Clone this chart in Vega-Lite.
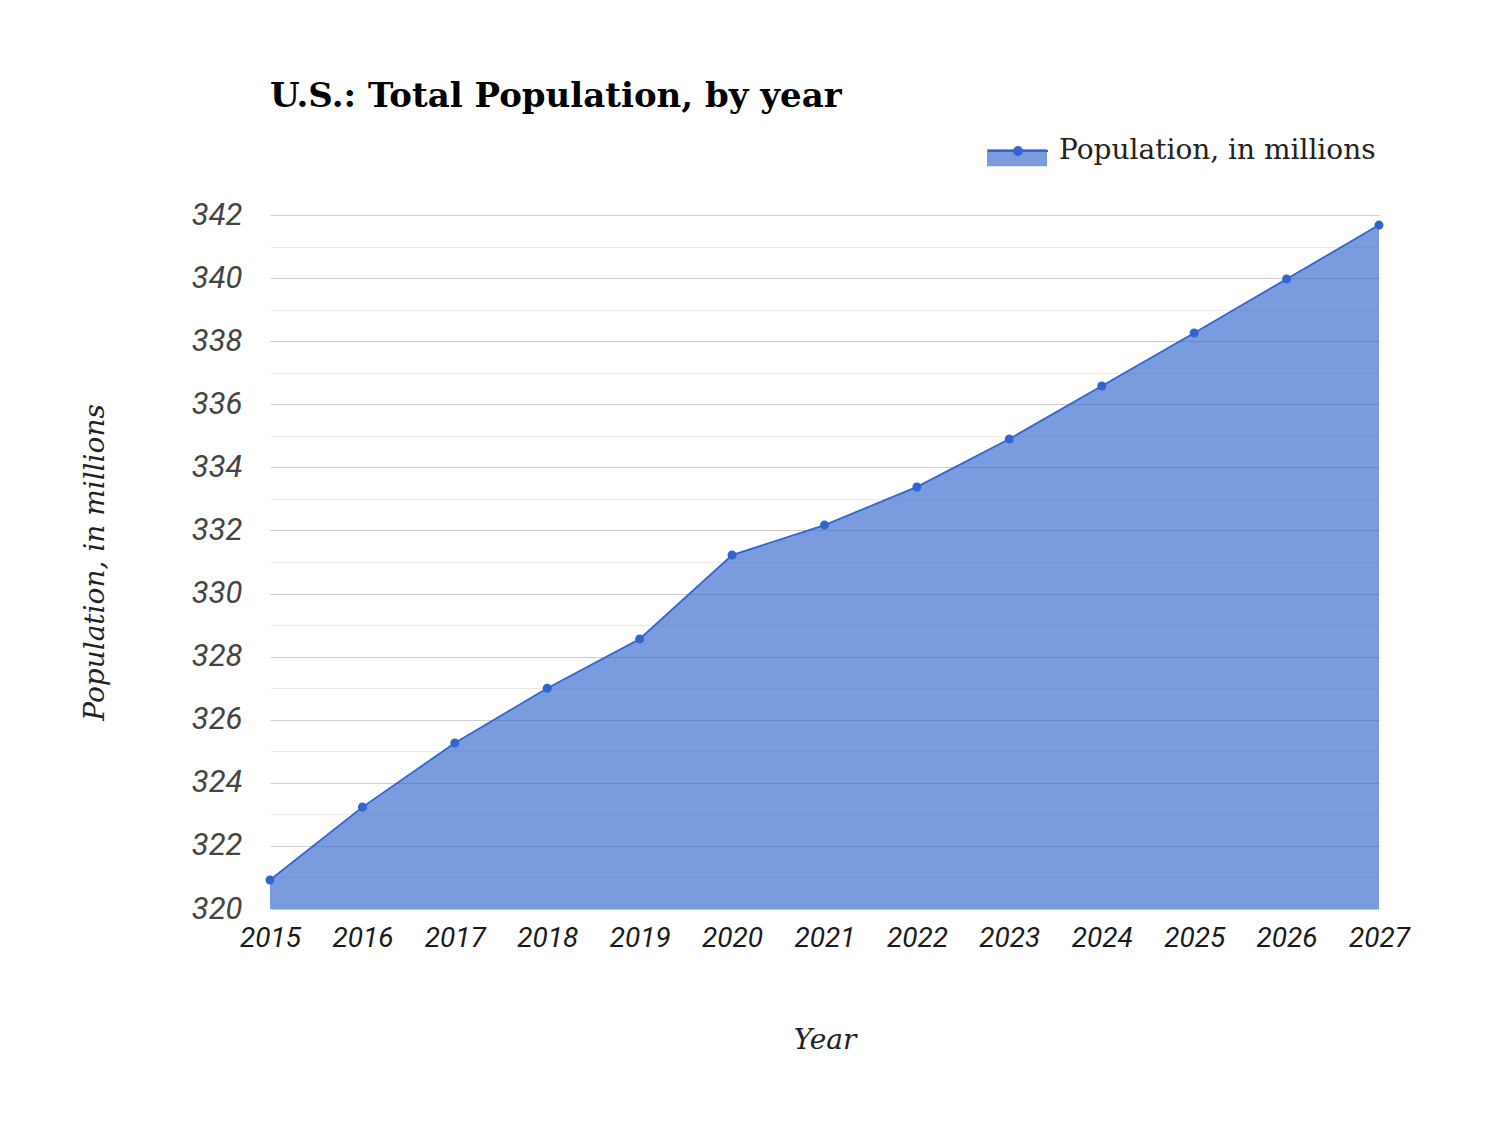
{
  "$schema": "https://vega.github.io/schema/vega-lite/v6.json",
  "width": 1109,
  "height": 694,
  "autosize": {"type": "none"},
  "padding": {"left": 270, "top": 215, "right": 121, "bottom": 216},
  "background": "white",
  "title": {
    "text": "U.S.: Total Population, by year",
    "anchor": "start",
    "frame": "group",
    "font": "DejaVu Serif",
    "fontWeight": "bold",
    "fontSize": 34,
    "color": "#000000",
    "offset": 6
  },
  "config": {
    "view": {"stroke": null},
    "axis": {
      "labelFont": "Roboto",
      "labelFontStyle": "italic",
      "titleFont": "DejaVu Serif",
      "titleFontStyle": "italic",
      "titleFontWeight": "normal",
      "titleFontSize": 28,
      "titleColor": "#222222",
      "domain": false,
      "ticks": false
    }
  },
  "data": {
    "values": [
      {"year": 2015, "population": 320.92},
      {"year": 2016, "population": 323.23},
      {"year": 2017, "population": 325.26},
      {"year": 2018, "population": 327.0},
      {"year": 2019, "population": 328.56},
      {"year": 2020, "population": 331.22},
      {"year": 2021, "population": 332.17},
      {"year": 2022, "population": 333.38},
      {"year": 2023, "population": 334.9},
      {"year": 2024, "population": 336.58},
      {"year": 2025, "population": 338.26},
      {"year": 2026, "population": 339.97},
      {"year": 2027, "population": 341.68}
    ]
  },
  "encoding": {
    "x": {
      "field": "year",
      "type": "quantitative",
      "scale": {"domain": [2015, 2027], "nice": false, "zero": false},
      "axis": {
        "title": "Year",
        "values": [2015, 2016, 2017, 2018, 2019, 2020, 2021, 2022, 2023, 2024, 2025, 2026, 2027],
        "format": "d",
        "grid": false,
        "labelFontSize": 28,
        "labelColor": "#1a1a1a",
        "labelPadding": 15,
        "labelFlush": false,
        "labelOverlap": false,
        "titleBaseline": "middle",
        "titleY": 131
      }
    },
    "y": {
      "field": "population",
      "type": "quantitative",
      "scale": {"domain": [320, 342], "nice": false, "zero": false},
      "axis": {
        "title": "Population, in millions",
        "values": [320, 321, 322, 323, 324, 325, 326, 327, 328, 329, 330, 331, 332, 333, 334, 335, 336, 337, 338, 339, 340, 341, 342],
        "labelExpr": "datum.value % 2 === 0 ? datum.label : ''",
        "labelFontSize": 31,
        "labelColor": "#444444",
        "labelPadding": 28,
        "labelOverlap": false,
        "gridColor": {
          "condition": {"test": "datum.value % 2 === 0", "value": "#cccccc"},
          "value": "#ebebeb"
        },
        "gridWidth": 1,
        "titleBaseline": "middle",
        "titleX": -175
      }
    }
  },
  "layer": [
    {
      "mark": {"type": "area", "fillOpacity": 0.65},
      "encoding": {
        "y2": {"datum": 320},
        "fill": {
          "datum": "Population, in millions ",
          "type": "nominal",
          "scale": {"range": ["#3366cc"]},
          "legend": {
            "orient": "none",
            "legendX": 717,
            "legendY": -95,
            "title": null,
            "symbolType": "M-1,-0.03H1V0.54H-1Z",
            "symbolSize": 3600,
            "symbolStrokeWidth": 0,
            "symbolOpacity": 0.65,
            "labelFont": "DejaVu Serif",
            "labelFontSize": 28,
            "labelLimit": 0,
            "labelColor": "transparent",
            "labelOffset": 10
          }
        }
      }
    },
    {
      "mark": {
        "type": "line",
        "strokeWidth": 1.8,
        "point": {"filled": true, "size": 50, "color": "#3366cc"}
      },
      "encoding": {
        "stroke": {
          "datum": "Population, in millions",
          "type": "nominal",
          "scale": {"range": ["#3366cc"]},
          "legend": {
            "orient": "none",
            "legendX": 717,
            "legendY": -95,
            "title": null,
            "symbolType": "M-1,0H1M0.13,0A0.13,0.13 0 1,1 -0.13,0A0.13,0.13 0 1,1 0.13,0Z",
            "symbolSize": 3600,
            "symbolFillColor": "#3366cc",
            "symbolStrokeColor": "#3366cc",
            "symbolStrokeWidth": 2,
            "symbolOpacity": 1,
            "labelFont": "DejaVu Serif",
            "labelFontSize": 28,
            "labelLimit": 0,
            "labelColor": "#222222",
            "labelOffset": 10
          }
        }
      }
    }
  ]
}
